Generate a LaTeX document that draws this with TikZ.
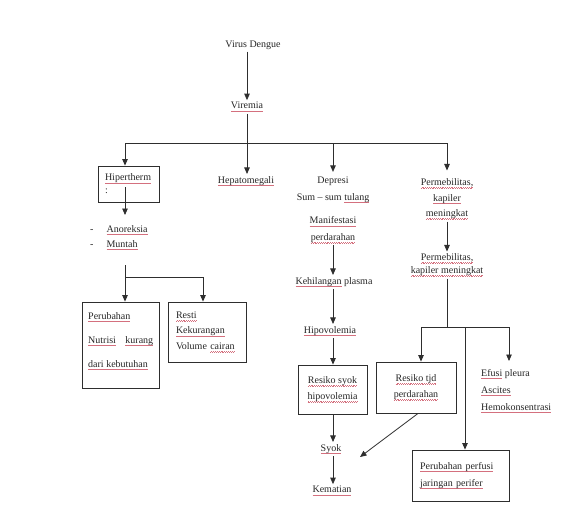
\documentclass[tikz,border=0pt]{standalone}
\usepackage{fontspec}
\setmainfont{Liberation Serif}
\usetikzlibrary{arrows.meta}
\definecolor{lnc}{HTML}{2E2E2E}
\definecolor{sqc}{HTML}{D4707E}
\newsavebox{\uwbox}
\newcommand\uw[1]{\leavevmode\sbox{\uwbox}{#1}\rlap{\hbox to \wd\uwbox{\color{sqc}\xleaders\hbox{\rule[-2.7pt]{0.9pt}{0.5pt}\rule[-2.1pt]{0.9pt}{0.5pt}}\hfill}}\usebox{\uwbox}}
\tikzset{
  txt/.style={font=\fontsize{10}{16.5}\selectfont, text=black!85, inner sep=2pt, align=center},
  boxn/.style={draw=lnc, line width=0.9pt, font=\fontsize{10}{16.5}\selectfont, text=black!85, align=center},
  wire/.style={draw=lnc, line width=0.8pt},
  arr/.style={draw=lnc, line width=0.8pt, -{Triangle[length=6.5pt,width=5.5pt]}}
}
\begin{document}
\begin{tikzpicture}[x=1pt,y=-1pt]
\useasboundingbox[fill=white] (0,0) rectangle (565,514);

% top
\node[txt] (virus) at (253,45) {Virus Dengue};
\node[txt] (viremia) at (247,107) {\uw{Viremia}};
\draw[arr] (virus.south -| viremia) -- (viremia.north);

% level 1
\node[boxn, minimum width=61pt, minimum height=36pt, text width=47pt, inner xsep=7pt, align=left, font=\fontsize{10}{13}\selectfont] (hiper) at (128.5,184) {\uw{Hipertherm}\\:};
\node[txt] (hepato) at (246,181) {\uw{Hepatomegali}};
\node[txt] (depresi) at (333,190) {Depresi\\Sum -- sum \uw{tulang}};
\node[txt, font=\fontsize{10}{15.5}\selectfont] (perm1) at (447,199) {\uw{Permebilitas,}\\\uw{kapiler}\\\uw{meningkat}};

\coordinate (bL) at (125,143);
\coordinate (bD) at (333,143);
\coordinate (bR) at (447,143);
\draw[wire] (bL) -- (bR);
\draw[arr] (viremia.south) -- (viremia.south |- hepato.north);
\draw[arr] (bL) -- (bL |- hiper.north);
\draw[arr] (bD) -- ([yshift=3pt]bD |- depresi.north);
\draw[arr] (bR) -- ([yshift=6pt]bR |- perm1.north);

% left branch
\coordinate (hA) at (125,187);
\coordinate (hB) at (125,215);
\draw[arr] (hA) -- (hB);
\node[txt, align=left, anchor=west, font=\fontsize{10}{15}\selectfont] (gejala) at (88,237.5) {-\hspace{13pt}\uw{Anoreksia}\\-\hspace{13pt}\uw{Muntah}};

\node[boxn, minimum width=77pt, minimum height=86pt] (pbox) at (120.5,345) {};
\node[txt, align=left, anchor=north west, inner sep=0pt, font=\fontsize{10}{24}\selectfont] (ptext) at (88,312) {\uw{Perubahan}\\\makebox[65pt][l]{\uw{Nutrisi}\hfill\uw{kurang}}\\\uw{dari kebutuhan}};
\node[boxn, minimum width=78pt, minimum height=60pt, text width=62pt, inner xsep=8pt, align=left, font=\fontsize{10}{15.5}\selectfont] (resti) at (207,332) {\uw{Resti}\\\uw{Kekurangan}\\Volume \uw{cairan}};

\coordinate (g1) at (125,265);
\coordinate (g2) at (125,277);
\coordinate (g3) at (203,277);
\draw[wire] (g1) -- (g2) -- (g3);
\draw[arr] (g2) -- (g2 |- pbox.north);
\draw[arr] (g3) -- (g3 |- resti.north);

% middle chain
\coordinate (mx) at (333,0);
\node[txt] (manif) at (333,230) {\uw{Manifestasi}\\\uw{perdarahan}};
\node[txt] (kehil) at (334,282) {\uw{Kehilangan} plasma};
\node[txt] (hipo) at (330,331) {\uw{Hipovolemia}};
\node[boxn, minimum width=69pt, minimum height=49pt, font=\fontsize{10}{16}\selectfont] (rsyok) at (332.5,389.5) {\uw{Resiko syok}\\\uw{hipovolemia}};
\node[txt] (syok) at (331,449) {\uw{Syok}};
\node[txt] (kemat) at (332,491) {\uw{Kematian}};

\draw[arr] (mx |- manif.south) -- (mx |- kehil.north);
\draw[arr] (mx |- kehil.south) -- (mx |- hipo.north);
\draw[arr] (mx |- hipo.south) -- (mx |- rsyok.north);
\draw[arr] (mx |- rsyok.south) -- (mx |- syok.north);
\draw[arr] (mx |- syok.south) -- (mx |- kemat.north);

% right branch
\node[txt, font=\fontsize{10}{13}\selectfont] (perm2) at (447,265) {\uw{Permebilitas,}\\\uw{kapiler meningkat}};
\draw[arr] (perm1.south) -- (perm2.north);

\coordinate (q0) at (447,327);
\coordinate (qL) at (421,327);
\coordinate (qM) at (465,327);
\coordinate (qR) at (509,327);
\draw[wire] (perm2.south) -- (q0);
\draw[wire] (qL) -- (qR);

\node[boxn, minimum width=80pt, minimum height=51pt, font=\fontsize{10}{16}\selectfont] (rtjd) at (416,387.5) {\uw{Resiko tjd}\\\uw{perdarahan}};
\node[txt, align=left, anchor=north west, font=\fontsize{10}{17}\selectfont] (efusi) at (479,367) {\uw{Efusi} pleura\\\uw{Ascites}\\\uw{Hemokonsentrasi}};
\node[boxn, minimum width=97pt, minimum height=51pt, text width=81pt, inner xsep=8pt, align=left, font=\fontsize{10}{17}\selectfont] (pperf) at (460.5,475.5) {\uw{Perubahan perfusi}\\\uw{jaringan perifer}};

\draw[arr] (qL) -- (qL |- rtjd.north);
\draw[arr] (qM) -- (qM |- pperf.north);
\draw[arr] (qR) -- ([yshift=6pt]qR |- efusi.north);

\coordinate (dEnd) at (360,457);
\draw[arr] ([xshift=2pt]rtjd.south) -- (dEnd);
\end{tikzpicture}
\end{document}
